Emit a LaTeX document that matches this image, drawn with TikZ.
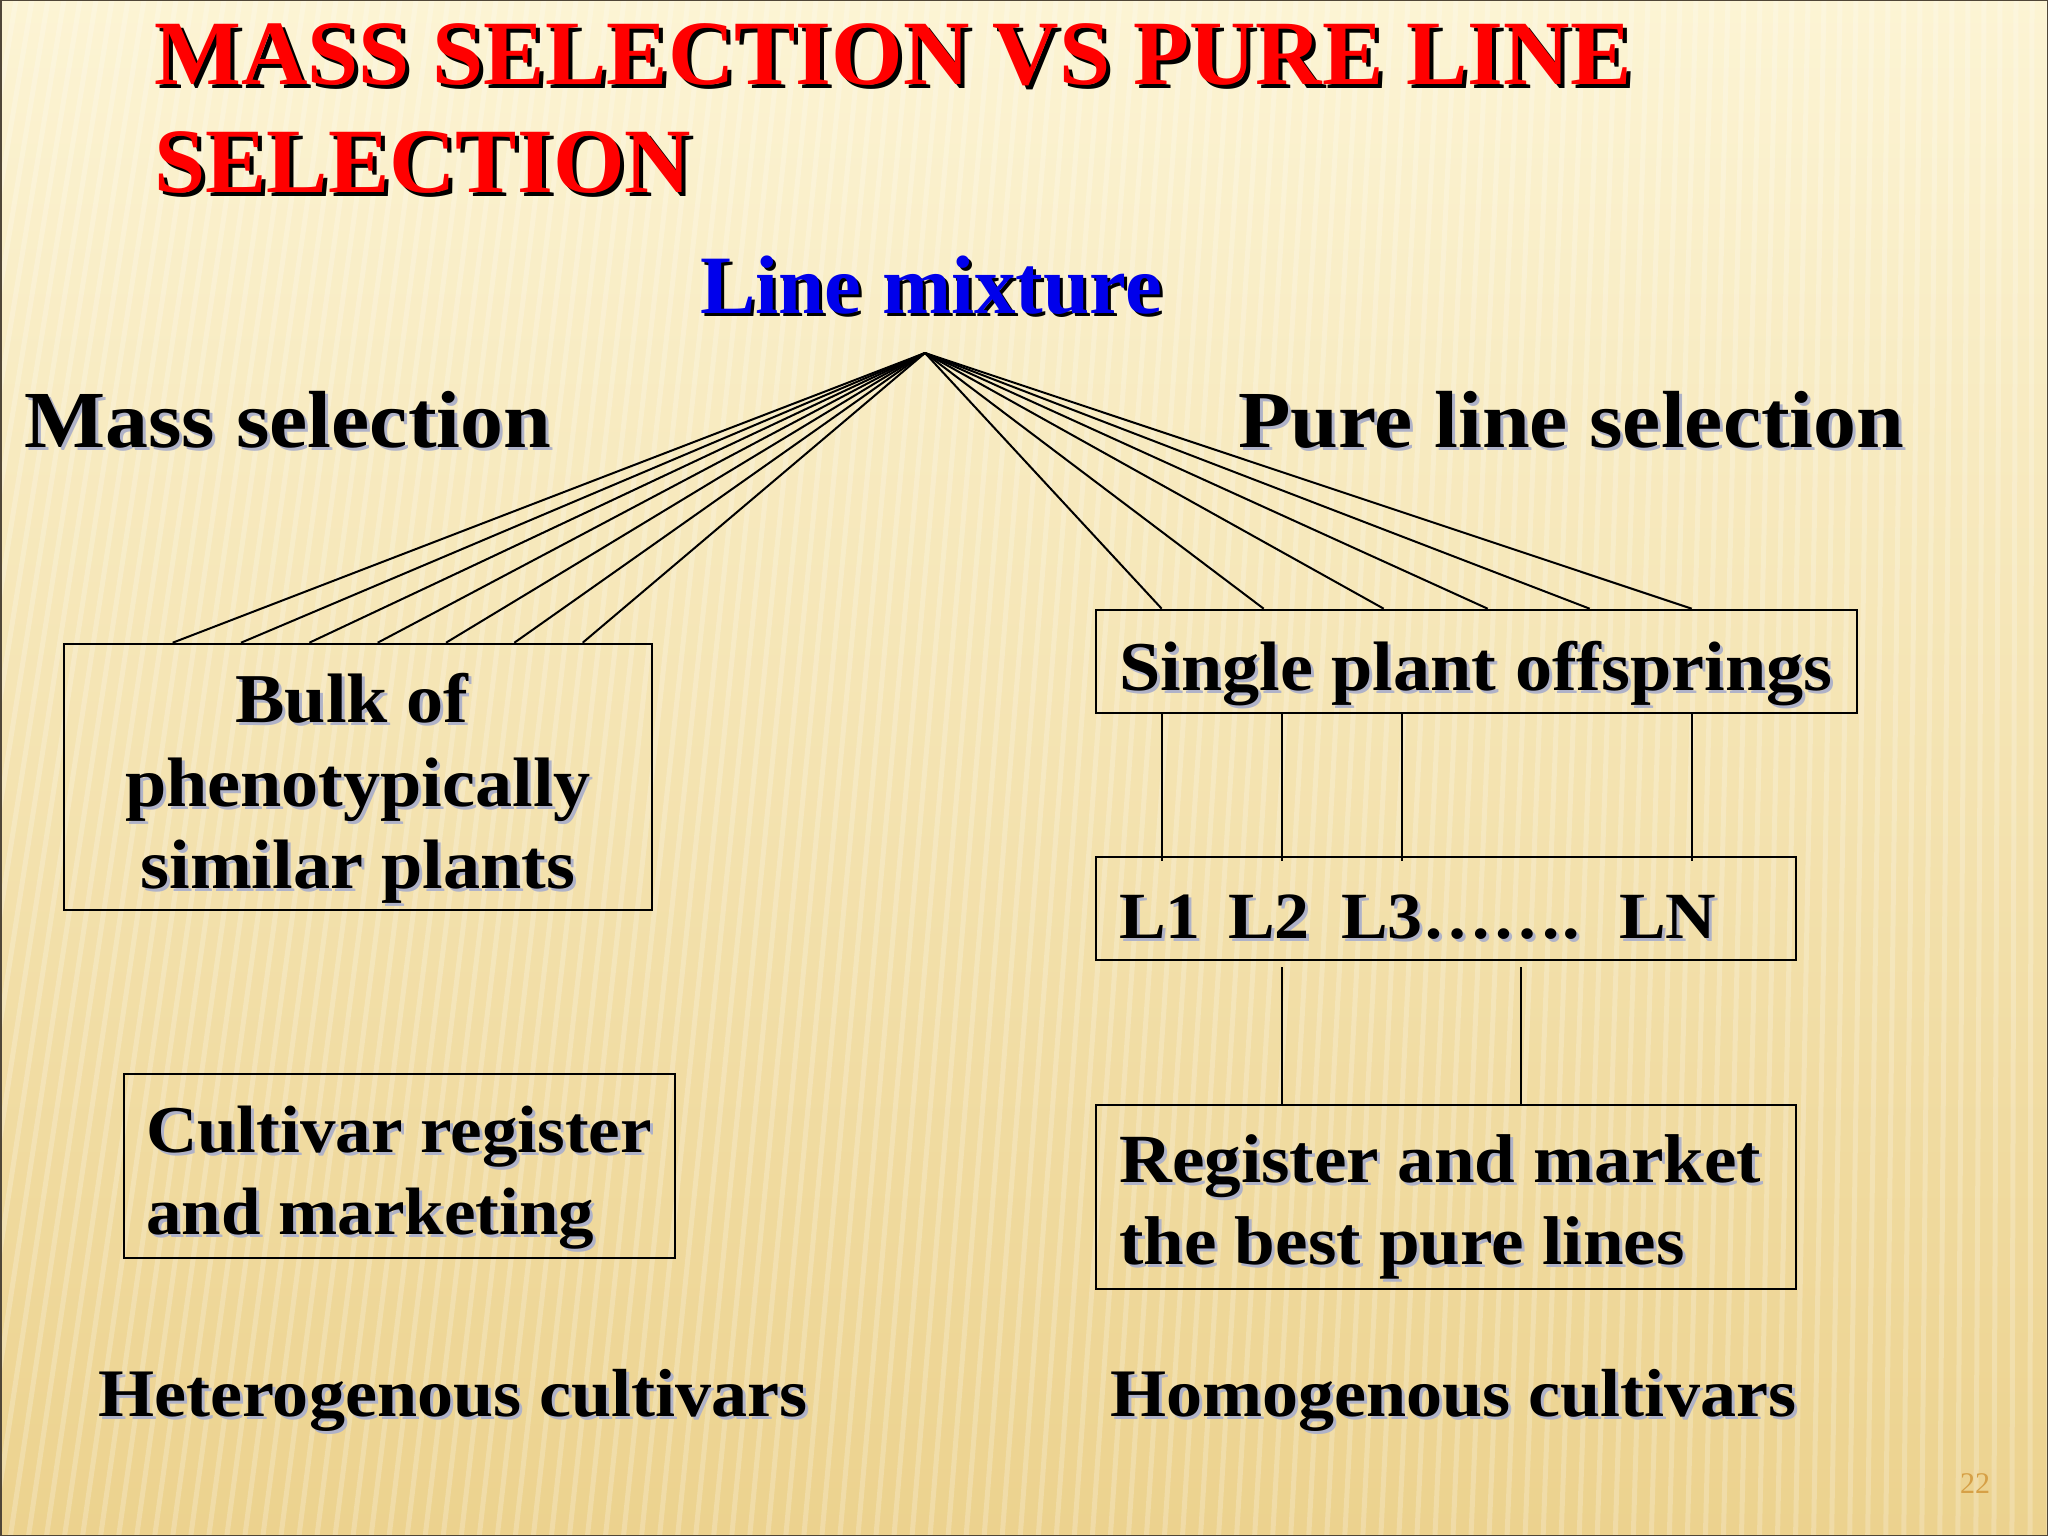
\documentclass[tikz,border=0pt]{standalone}
\usepackage{fontspec}
\setmainfont{Liberation Serif}
\newfontfamily\bodyfont{Liberation Serif}[FakeStretch=1.06]
\usetikzlibrary{calc}
\definecolor{bgtop}{RGB}{252,244,212}
\definecolor{bgmid}{RGB}{246,232,184}
\definecolor{bgbot}{RGB}{236,210,142}
\definecolor{titlered}{RGB}{255,0,0}
\definecolor{lineblue}{RGB}{0,0,235}
\definecolor{shadowgrey}{RGB}{175,178,200}
\definecolor{pagenum}{RGB}{214,160,70}
\definecolor{borderc}{RGB}{80,70,55}
\newcommand{\shd}[3]{\leavevmode\rlap{\kern#1\raisebox{-#1}{\textcolor{#2}{#3}}}#3}
\begin{document}
\begin{tikzpicture}[x=1pt,y=-1pt,
  titletext/.style={anchor=base west,inner sep=0pt,text=titlered,font=\bfseries\fontsize{92}{92}\selectfont},
  bodytext/.style={anchor=base west,inner sep=0pt,text=black,font=\bodyfont\bfseries\fontsize{#1}{#1}\selectfont},
  bodytext/.default=70,
  boxnode/.style={draw=black,line width=2.6pt,inner sep=0pt},
  fan/.style={draw=black,line width=2pt},
  vline/.style={draw=black,line width=1.6pt}]
\useasboundingbox (0,0) rectangle (2048,1536);
\shade[top color=bgtop, middle color=bgmid, bottom color=bgbot] (0,0) rectangle (2048,1536);
\foreach \x in {0,16,...,2200} {
  \draw[white,opacity=0.22,line width=5pt] (\x,0) -- ({\x-260*(1-\x/2048)},1536);
}
\draw[borderc,line width=3pt] (0,0) rectangle (2048,1536);

% title
\node[titletext] (title1) at (154,85) {\shd{4pt}{black}{MASS SELECTION VS PURE LINE}};
\node[titletext] (title2) at (154,193) {\shd{4pt}{black}{SELECTION}};

% line mixture
\node[anchor=base,inner sep=0pt,text=lineblue,font=\bfseries\fontsize{83}{83}\selectfont] (mix) at (931,313) {\shd{3pt}{black}{Line mixture}};
\coordinate (apex) at (925,353);

\node[bodytext=81] (mass) at (24,447) {\shd{3pt}{shadowgrey}{Mass selection}};
\node[bodytext=81] (pure) at (1238,447) {\shd{3pt}{shadowgrey}{Pure line selection}};

% boxes
\node[boxnode, minimum width=588pt, minimum height=266pt] (bulk) at (358,777) {};
\node[boxnode, minimum width=761pt, minimum height=103pt] (single) at (1476.5,661.5) {};
\node[boxnode, minimum width=700pt, minimum height=103pt] (lbox) at (1446,908.5) {};
\node[boxnode, minimum width=700pt, minimum height=184pt] (reg) at (1446,1197) {};
\node[boxnode, minimum width=551pt, minimum height=184pt] (cult) at (399.5,1166) {};

% box texts
\node[bodytext, anchor=base] (bulk1) at (352,722) {\shd{3pt}{shadowgrey}{Bulk of}};
\node[bodytext, anchor=base] (bulk2) at (358,806) {\shd{3pt}{shadowgrey}{phenotypically}};
\node[bodytext, anchor=base] (bulk3) at (358,888) {\shd{3pt}{shadowgrey}{similar plants}};

\node[bodytext] (singletext) at (1119,690) {\shd{3pt}{shadowgrey}{Single plant offsprings}};
\node[bodytext=66] (ltext) at (1119,938) {\shd{3pt}{shadowgrey}{\makebox[109pt][l]{L1}\makebox[113pt][l]{L2}\makebox[278pt][l]{L3…….}LN}};
\node[bodytext=69] (reg1) at (1119,1182) {\shd{3pt}{shadowgrey}{Register and market}};
\node[bodytext=69] (reg2) at (1119,1264) {\shd{3pt}{shadowgrey}{the best pure lines}};

\node[bodytext=67] (cult1) at (146,1152) {\shd{3pt}{shadowgrey}{Cultivar register}};
\node[bodytext=67] (cult2) at (146,1234) {\shd{3pt}{shadowgrey}{and marketing}};

\node[bodytext=68] (hetero) at (98,1416) {\shd{3pt}{shadowgrey}{Heterogenous cultivars}};
\node[bodytext=68] (homo) at (1110,1416) {\shd{3pt}{shadowgrey}{Homogenous cultivars}};

\node[anchor=base west,inner sep=0pt,text=pagenum,font=\fontsize{30}{30}\selectfont] (pnum) at (1960,1493) {22};

% connectors
\foreach \i in {0,...,6}
  \draw[fan] (apex) -- ($(bulk.north west)+({110+68.33*\i},0)$);
\foreach \d in {67,169,289,393,495,597}
  \draw[fan] (apex) -- ($(single.north west)+(\d,0)$);
\foreach \d in {67,187,307,597}
  \draw[vline] ($(single.south west)+(\d,0)$) -- ($(lbox.north west)+(\d,5)$);
\foreach \d in {187,426}
  \draw[vline] ($(lbox.south west)+(\d,6)$) -- ($(reg.north west)+(\d,0)$);
\end{tikzpicture}
\end{document}
